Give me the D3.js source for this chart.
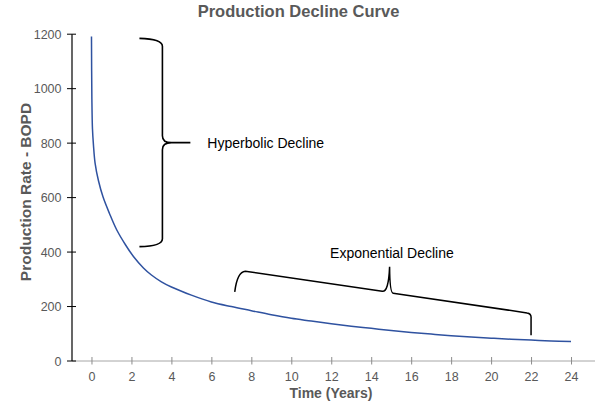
<!DOCTYPE html>
<head>
  <meta charset="utf-8">
  <style>
    body { margin: 0; background: #fff; font-family: "Liberation Sans", Arial, sans-serif; }
    .tick text { fill: #595959; font-size: 12.5px; font-family: "Liberation Sans", Arial, sans-serif; }
  </style>
  <script src="https://cdn.jsdelivr.net/npm/d3@7"></script>
</head>
<body>
<div id=chart></div>
<script>
// years on production vs. rate (BOPD)
const years = [0, 0.02, 0.05, 0.1, 0.18, 0.35, 0.58, 0.9, 1.26, 1.7, 2.1, 2.6, 3, 3.5, 4, 5, 6, 7, 8, 9, 10,
  11, 12, 13, 14, 15, 16, 17, 18, 19, 20, 21, 22, 23, 24]
const rates = [1190, 960, 850, 790, 725, 660, 600, 540, 480, 425, 382, 340, 314, 289, 270, 240, 215, 198, 183, 168, 155,
  145, 135, 126, 118, 110, 103, 97, 91, 86, 82, 78, 75, 72, 70]
const xTicks = [0, 2, 4, 6, 8, 10, 12, 14, 16, 18, 20, 22, 24]
const yTicks = [0, 200, 400, 600, 800, 1000, 1200]

// braces, in data units
const hypBrace = { left: 2.4, spine: 3.55, tip: 4.95, top: 1183, mid: 800, bottom: 418 }
const expBrace = {
  start: [7.17, 252], corner1: [7.55, 328], cuspL: [14.55, 254], tip: [14.92, 344],
  cuspR: [15.1, 247], corner2: [21.95, 173], end: [22.0, 93]
}
const labels = [
  { text: 'Hyperbolic Decline', x: 5.8, y: 800 },
  { text: 'Exponential Decline', x: 11.94, y: 393 },
]

const width = 595, height = 402
const x = d3.scaleLinear().domain([-1, 25.2]).range([71.5, 595])
const y = d3.scaleLinear().domain([0, 1200]).range([360.5, 33.7])

const svg = d3.select('#chart').append('svg')
  .attr('width', width).attr('height', height)
  .attr('viewBox', [0, 0, width, height])

// x axis (gray, ticks through the line)
svg.append('g')
  .attr('transform', `translate(0,${y(0)})`)
  .call(d3.axisBottom(x).tickValues(xTicks).tickSize(4).tickPadding(8).tickSizeOuter(0))
  .call(g => g.select('.domain').attr('stroke', '#a6a6a6'))
  .call(g => g.selectAll('.tick line').attr('stroke', '#8c8c8c').attr('y1', -3.5))

// y axis (black)
svg.append('g')
  .attr('transform', `translate(${x(-1)},0)`)
  .call(d3.axisLeft(y).tickValues(yTicks).tickFormat(d3.format('d')).tickSize(4.5).tickPadding(5.5).tickSizeOuter(0))
  .call(g => g.select('.domain').attr('stroke', '#000').attr('stroke-width', 1.2))
  .call(g => g.selectAll('.tick line').attr('stroke', '#000').attr('x2', -4.5).attr('x1', 4.5))
  .call(g => g.selectAll('.tick text').attr('dy', '0.36em'))

// decline curve
const line = d3.line().x((d, i) => x(years[i])).y(d => y(d)).curve(d3.curveCatmullRom.alpha(0.5))
svg.append('path')
  .attr('d', line(rates))
  .attr('fill', 'none')
  .attr('stroke', '#2f52a0')
  .attr('stroke-width', 1.5)

// hyperbolic brace
{
  const b = hypBrace
  const xl = x(b.left), xs = x(b.spine), xt = x(b.tip)
  const yt = y(b.top), ym = y(b.mid), yb = y(b.bottom)
  const p = d3.path()
  p.moveTo(xl, yt)
  p.quadraticCurveTo(xs, yt + 0.5, xs, yt + 8)
  p.lineTo(xs, ym - 7)
  p.quadraticCurveTo(xs, ym, xs + 9, ym)
  p.lineTo(xt, ym)
  p.moveTo(xs + 9, ym)
  p.quadraticCurveTo(xs, ym, xs, ym + 7)
  p.lineTo(xs, yb - 8)
  p.quadraticCurveTo(xs, yb - 0.5, xl, yb)
  svg.append('path').attr('d', p.toString())
    .attr('fill', 'none').attr('stroke', '#000').attr('stroke-width', 1.6)
}

// exponential brace
{
  const b = expBrace
  const P = k => [x(b[k][0]), y(b[k][1])]
  const [ax, ay] = P('start'), [bx, by] = P('corner1'), [cx, cy] = P('cuspL')
  const [tx, ty] = P('tip'), [dx, dy] = P('cuspR'), [ex, ey] = P('corner2'), [fx, fy] = P('end')
  const p = d3.path()
  p.moveTo(ax, ay)
  p.quadraticCurveTo(ax + 2.5, by + 0.5, bx + 3, by)
  p.lineTo(cx, cy)
  p.quadraticCurveTo(tx - 1, cy + 1, tx, ty)
  p.moveTo(tx, ty)
  p.quadraticCurveTo(tx + 0.2, dy, dx, dy)
  p.lineTo(ex - 3, ey - 0.5)
  p.quadraticCurveTo(ex + 1.5, ey, ex + 1, ey + 5)
  p.lineTo(fx, fy)
  svg.append('path').attr('d', p.toString())
    .attr('fill', 'none').attr('stroke', '#000').attr('stroke-width', 1.5)
}

// annotation labels
svg.append('g').selectAll('text')
  .data(labels)
  .join('text')
  .attr('x', d => x(d.x))
  .attr('y', d => y(d.y))
  .attr('dy', '0.35em')
  .attr('font-size', 14)
  .attr('fill', '#000')
  .text(d => d.text)

// titles
svg.append('text')
  .attr('x', 298.5).attr('y', 16.5)
  .attr('text-anchor', 'middle')
  .attr('font-size', 16.5).attr('font-weight', 'bold').attr('fill', '#595959')
  .text('Production Decline Curve')

svg.append('text')
  .attr('x', 331).attr('y', 398)
  .attr('text-anchor', 'middle')
  .attr('font-size', 14).attr('font-weight', 'bold').attr('fill', '#595959')
  .text('Time (Years)')

svg.append('text')
  .attr('transform', 'translate(30.5,192) rotate(-90)')
  .attr('text-anchor', 'middle')
  .attr('font-size', 15.5).attr('font-weight', 'bold').attr('fill', '#595959')
  .text('Production Rate - BOPD')
</script>
</body>
